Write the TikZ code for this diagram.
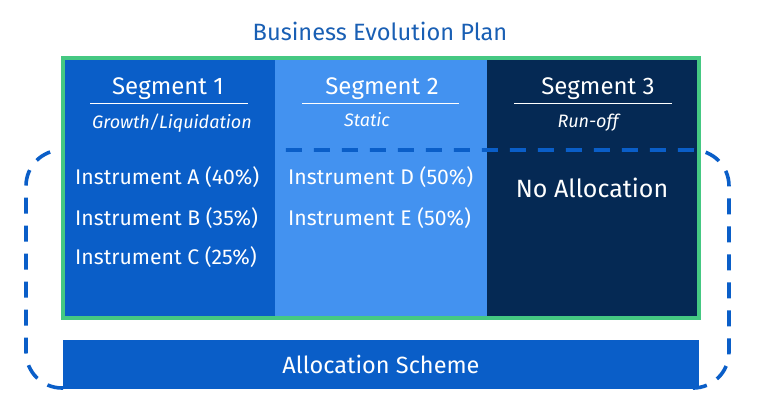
\documentclass[tikz,border=0pt]{standalone}
\usepackage{fontspec}
\setmainfont{Fira Sans}
\definecolor{segA}{RGB}{10,94,200}
\definecolor{segB}{RGB}{67,146,240}
\definecolor{segC}{RGB}{5,41,84}
\definecolor{frameG}{RGB}{69,200,130}
\definecolor{titleC}{RGB}{25,95,180}
\tikzset{
  segbox/.style={draw=none, inner sep=0pt, outer sep=0pt, anchor=north west},
  dashline/.style={draw=segA, line width=3.6pt, dash pattern=on 16pt off 12pt},
  seghead/.style={text=white, inner sep=0pt, anchor=base, font=\fontsize{24}{28}\selectfont},
  segsub/.style={text=white, inner sep=0pt, anchor=base, font=\fontsize{18}{21}\selectfont\itshape},
  instr/.style={text=white, inner sep=0pt, anchor=base west, font=\fontsize{21.2}{24}\selectfont},
  rule/.style={draw=white, line width=1pt}
}
\begin{document}
\begin{tikzpicture}[x=1pt,y=-1pt]
\useasboundingbox[fill=white] (0,0) rectangle (766,417);
% title
\node[text=titleC, inner sep=0pt, anchor=base, font=\fontsize{23.6}{28}\selectfont] (title) at (380,41) {Business Evolution Plan};
% segment fills
\node[segbox, fill=segA, minimum width=210pt, minimum height=256pt] (s1) at (65,60) {};
\node[segbox, fill=segB, minimum width=212pt, minimum height=256pt] (s2) at (275,60) {};
\node[segbox, fill=segC, minimum width=210pt, minimum height=256pt] (s3) at (487,60) {};
% dashed allocation boundary
\coordinate (dl) at (63,388);
\coordinate (dr) at (699,388);
\draw[dashline, rounded corners=36pt] (dl) -- (26,388) -- (26,150) -- (729,150) -- (729,388) -- (dr);
% green frame
\node[draw=frameG, line width=4pt, inner sep=0pt, outer sep=0pt, anchor=north west, minimum width=636pt, minimum height=260pt] (frame) at (63,58) {};
% headers
\node[seghead] (h1) at (168,95) {Segment 1};
\node[seghead] (h2) at (382,95) {Segment 2};
\node[seghead] (h3) at (598,95) {Segment 3};
\coordinate (u1a) at (90,104); \coordinate (u1b) at (248,104);
\coordinate (u2a) at (302,104); \coordinate (u2b) at (459,104);
\coordinate (u3a) at (514,104); \coordinate (u3b) at (672,104);
\draw[rule] (u1a) -- (u1b);
\draw[rule] (u2a) -- (u2b);
\draw[rule] (u3a) -- (u3b);
\node[segsub] (t1) at (172,129) {Growth/Liquidation};
\node[segsub] (t2) at (367,127) {Static};
\node[segsub] (t3) at (588,128) {Run-off};
% instruments
\node[instr] (ia) at (75,185) {Instrument A (40\%)};
\node[instr] (ib) at (75,225) {Instrument B (35\%)};
\node[instr] (ic) at (75,264) {Instrument C (25\%)};
\node[instr] (id) at (288,185) {Instrument D (50\%)};
\node[instr] (ie) at (288,225) {Instrument E (50\%)};
\node[text=white, inner sep=0pt, anchor=base, font=\fontsize{25}{29}\selectfont] (na) at (592,197) {No Allocation};
% allocation scheme
\node[segbox, fill=segA, minimum width=636pt, minimum height=49pt] (alloc) at (63,340) {};
\node[text=white, inner sep=0pt, anchor=base, font=\fontsize{23.5}{27}\selectfont] (allocT) at (381,373) {Allocation Scheme};
\end{tikzpicture}
\end{document}
